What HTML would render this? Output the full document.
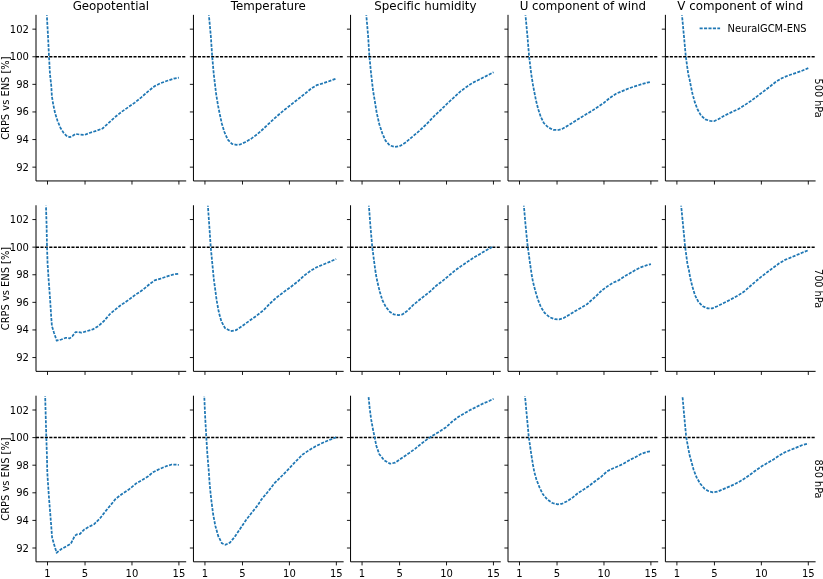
<!DOCTYPE html><html><head><meta charset="utf-8"><style>html,body{margin:0;padding:0;background:#fff;}svg{display:block;}text{font-family:"DejaVu Sans","Liberation Sans",sans-serif;fill:#000;font-variant-ligatures:none;font-kerning:normal;}</style></head><body>
<svg width="823" height="579" viewBox="0 0 823 579">
<rect width="823" height="579" fill="#fff"/>
<defs>
<clipPath id="c00"><rect x="36" y="15.35" width="149.7" height="165.6"/></clipPath>
<clipPath id="c01"><rect x="193.45" y="15.35" width="149.7" height="165.6"/></clipPath>
<clipPath id="c02"><rect x="350.55" y="15.35" width="149.7" height="165.6"/></clipPath>
<clipPath id="c03"><rect x="508" y="15.35" width="149.7" height="165.6"/></clipPath>
<clipPath id="c04"><rect x="665.4" y="15.35" width="149.7" height="165.6"/></clipPath>
<clipPath id="c10"><rect x="36" y="205.75" width="149.7" height="165.6"/></clipPath>
<clipPath id="c11"><rect x="193.45" y="205.75" width="149.7" height="165.6"/></clipPath>
<clipPath id="c12"><rect x="350.55" y="205.75" width="149.7" height="165.6"/></clipPath>
<clipPath id="c13"><rect x="508" y="205.75" width="149.7" height="165.6"/></clipPath>
<clipPath id="c14"><rect x="665.4" y="205.75" width="149.7" height="165.6"/></clipPath>
<clipPath id="c20"><rect x="36" y="396.2" width="149.7" height="165.6"/></clipPath>
<clipPath id="c21"><rect x="193.45" y="396.2" width="149.7" height="165.6"/></clipPath>
<clipPath id="c22"><rect x="350.55" y="396.2" width="149.7" height="165.6"/></clipPath>
<clipPath id="c23"><rect x="508" y="396.2" width="149.7" height="165.6"/></clipPath>
<clipPath id="c24"><rect x="665.4" y="396.2" width="149.7" height="165.6"/></clipPath>
</defs>
<line x1="36" y1="56.75" x2="185.7" y2="56.75" stroke="#000" stroke-width="1.5" stroke-dasharray="3.09 1.34"/>
<path d="M45.19 -13.6 L46.9 16.4 L48 35.7 L49 56.5 L50 74.5 L51.2 85 L51.9 96.4 L53.3 104.9 L55.2 113.5 L57.6 121.1 L60.4 127.7 L63.7 133 L67.1 136.3 L69.9 137.2 L72.8 135.8 L75.6 133.9 L79.9 134.6 L84.6 134.9 L89.4 133 L97 130.6 L102.5 128.5 L109 122.6 L115.4 116.8 L121.9 111.6 L128.4 107.1 L134.9 102.6 L141.3 97.4 L147.8 91.6 L154.3 86.4 L160.8 83.1 L167.2 80.8 L173.7 78.6 L178.85 77.6" fill="none" stroke="#1f77b4" stroke-width="1.75" stroke-dasharray="3.09 1.34" stroke-linejoin="round" clip-path="url(#c00)"/>
<path d="M36 15.35 V180.95 H185.7" fill="none" stroke="#000" stroke-width="1.0" stroke-linecap="square"/>
<line x1="32.4" y1="167.15" x2="36" y2="167.15" stroke="#000" stroke-width="0.9"/>
<text x="28.9" y="167.15" font-size="10.0" text-anchor="end" dominant-baseline="central">92</text>
<line x1="32.4" y1="139.55" x2="36" y2="139.55" stroke="#000" stroke-width="0.9"/>
<text x="28.9" y="139.55" font-size="10.0" text-anchor="end" dominant-baseline="central">94</text>
<line x1="32.4" y1="111.95" x2="36" y2="111.95" stroke="#000" stroke-width="0.9"/>
<text x="28.9" y="111.95" font-size="10.0" text-anchor="end" dominant-baseline="central">96</text>
<line x1="32.4" y1="84.35" x2="36" y2="84.35" stroke="#000" stroke-width="0.9"/>
<text x="28.9" y="84.35" font-size="10.0" text-anchor="end" dominant-baseline="central">98</text>
<line x1="32.4" y1="56.75" x2="36" y2="56.75" stroke="#000" stroke-width="0.9"/>
<text x="28.9" y="56.75" font-size="10.0" text-anchor="end" dominant-baseline="central">100</text>
<line x1="32.4" y1="29.15" x2="36" y2="29.15" stroke="#000" stroke-width="0.9"/>
<text x="28.9" y="29.15" font-size="10.0" text-anchor="end" dominant-baseline="central">102</text>
<line x1="47.5" y1="180.95" x2="47.5" y2="184.55" stroke="#000" stroke-width="0.9"/>
<line x1="85.04" y1="180.95" x2="85.04" y2="184.55" stroke="#000" stroke-width="0.9"/>
<line x1="131.97" y1="180.95" x2="131.97" y2="184.55" stroke="#000" stroke-width="0.9"/>
<line x1="178.9" y1="180.95" x2="178.9" y2="184.55" stroke="#000" stroke-width="0.9"/>
<text x="110.85" y="10" font-size="11.85" text-anchor="middle">Geopotential</text>
<text transform="translate(8.5 98.15) rotate(-90)" font-size="9.9" text-anchor="middle">CRPS vs ENS [%]</text>
<line x1="193.45" y1="56.75" x2="343.15" y2="56.75" stroke="#000" stroke-width="1.5" stroke-dasharray="3.09 1.34"/>
<path d="M206.2 -13.6 L209 16.4 L210.8 35.7 L212.2 56.5 L213.8 74.5 L216.2 94.5 L218.1 105.9 L220 115.2 L221.8 123.5 L224.4 132 L227.8 139.7 L232 143.9 L236.3 144.9 L240.5 144.3 L245.6 142 L251.6 138.4 L257.5 134.1 L262.6 129.5 L268.6 123.9 L276.2 116.8 L283.5 110.6 L290.7 104.9 L298 99.2 L305.2 93.5 L311.5 88.3 L316.6 85.2 L321.8 83.7 L328 81.6 L336.21 78.6" fill="none" stroke="#1f77b4" stroke-width="1.75" stroke-dasharray="3.09 1.34" stroke-linejoin="round" clip-path="url(#c01)"/>
<path d="M193.45 15.35 V180.95 H343.15" fill="none" stroke="#000" stroke-width="1.0" stroke-linecap="square"/>
<line x1="189.85" y1="167.15" x2="193.45" y2="167.15" stroke="#000" stroke-width="0.9"/>
<line x1="189.85" y1="139.55" x2="193.45" y2="139.55" stroke="#000" stroke-width="0.9"/>
<line x1="189.85" y1="111.95" x2="193.45" y2="111.95" stroke="#000" stroke-width="0.9"/>
<line x1="189.85" y1="84.35" x2="193.45" y2="84.35" stroke="#000" stroke-width="0.9"/>
<line x1="189.85" y1="56.75" x2="193.45" y2="56.75" stroke="#000" stroke-width="0.9"/>
<line x1="189.85" y1="29.15" x2="193.45" y2="29.15" stroke="#000" stroke-width="0.9"/>
<line x1="204.95" y1="180.95" x2="204.95" y2="184.55" stroke="#000" stroke-width="0.9"/>
<line x1="242.49" y1="180.95" x2="242.49" y2="184.55" stroke="#000" stroke-width="0.9"/>
<line x1="289.42" y1="180.95" x2="289.42" y2="184.55" stroke="#000" stroke-width="0.9"/>
<line x1="336.35" y1="180.95" x2="336.35" y2="184.55" stroke="#000" stroke-width="0.9"/>
<text x="268.3" y="10" font-size="11.85" text-anchor="middle">Temperature</text>
<line x1="350.55" y1="56.75" x2="500.25" y2="56.75" stroke="#000" stroke-width="1.5" stroke-dasharray="3.09 1.34"/>
<path d="M363.76 -13.6 L366.4 16.4 L368.1 35.7 L369.4 56.5 L371.2 74.5 L373.1 91 L374.7 100.4 L376.7 112.8 L379.3 124.2 L382.4 133.5 L385.5 140.7 L389.7 145.4 L394.8 146.9 L400 145.9 L405.2 142.8 L411.4 137.6 L418.7 131.4 L425.9 124.7 L435.4 114.9 L441.6 109.2 L447.8 103 L454 97.3 L460.2 91.6 L466.5 86.9 L472.7 82.8 L478.9 79.7 L486.1 76.1 L493.57 72.2" fill="none" stroke="#1f77b4" stroke-width="1.75" stroke-dasharray="3.09 1.34" stroke-linejoin="round" clip-path="url(#c02)"/>
<path d="M350.55 15.35 V180.95 H500.25" fill="none" stroke="#000" stroke-width="1.0" stroke-linecap="square"/>
<line x1="346.95" y1="167.15" x2="350.55" y2="167.15" stroke="#000" stroke-width="0.9"/>
<line x1="346.95" y1="139.55" x2="350.55" y2="139.55" stroke="#000" stroke-width="0.9"/>
<line x1="346.95" y1="111.95" x2="350.55" y2="111.95" stroke="#000" stroke-width="0.9"/>
<line x1="346.95" y1="84.35" x2="350.55" y2="84.35" stroke="#000" stroke-width="0.9"/>
<line x1="346.95" y1="56.75" x2="350.55" y2="56.75" stroke="#000" stroke-width="0.9"/>
<line x1="346.95" y1="29.15" x2="350.55" y2="29.15" stroke="#000" stroke-width="0.9"/>
<line x1="362.05" y1="180.95" x2="362.05" y2="184.55" stroke="#000" stroke-width="0.9"/>
<line x1="399.59" y1="180.95" x2="399.59" y2="184.55" stroke="#000" stroke-width="0.9"/>
<line x1="446.52" y1="180.95" x2="446.52" y2="184.55" stroke="#000" stroke-width="0.9"/>
<line x1="493.45" y1="180.95" x2="493.45" y2="184.55" stroke="#000" stroke-width="0.9"/>
<text x="425.4" y="10" font-size="11.85" text-anchor="middle">Specific humidity</text>
<line x1="508" y1="56.75" x2="657.7" y2="56.75" stroke="#000" stroke-width="1.5" stroke-dasharray="3.09 1.34"/>
<path d="M522.8 -13.6 L525.6 16.4 L527.4 35.7 L529.1 56.5 L531.3 74.5 L533 85 L534.3 91.9 L536 100.5 L538.2 109.2 L540.8 116.9 L543.8 123 L548.1 127.3 L553.3 129.9 L558.5 130 L562.8 128.6 L568 125.6 L574.9 121.2 L581.8 116.9 L585 114.9 L591.2 111.3 L597.4 107.2 L603.7 103 L609.9 97.8 L616.1 93.7 L622.3 91.1 L628.5 88.5 L634.7 86.4 L641 84.4 L647.2 82.6 L650.93 81.8" fill="none" stroke="#1f77b4" stroke-width="1.75" stroke-dasharray="3.09 1.34" stroke-linejoin="round" clip-path="url(#c03)"/>
<path d="M508 15.35 V180.95 H657.7" fill="none" stroke="#000" stroke-width="1.0" stroke-linecap="square"/>
<line x1="504.4" y1="167.15" x2="508" y2="167.15" stroke="#000" stroke-width="0.9"/>
<line x1="504.4" y1="139.55" x2="508" y2="139.55" stroke="#000" stroke-width="0.9"/>
<line x1="504.4" y1="111.95" x2="508" y2="111.95" stroke="#000" stroke-width="0.9"/>
<line x1="504.4" y1="84.35" x2="508" y2="84.35" stroke="#000" stroke-width="0.9"/>
<line x1="504.4" y1="56.75" x2="508" y2="56.75" stroke="#000" stroke-width="0.9"/>
<line x1="504.4" y1="29.15" x2="508" y2="29.15" stroke="#000" stroke-width="0.9"/>
<line x1="519.5" y1="180.95" x2="519.5" y2="184.55" stroke="#000" stroke-width="0.9"/>
<line x1="557.04" y1="180.95" x2="557.04" y2="184.55" stroke="#000" stroke-width="0.9"/>
<line x1="603.97" y1="180.95" x2="603.97" y2="184.55" stroke="#000" stroke-width="0.9"/>
<line x1="650.9" y1="180.95" x2="650.9" y2="184.55" stroke="#000" stroke-width="0.9"/>
<text x="582.85" y="10" font-size="11.85" text-anchor="middle">U component of wind</text>
<line x1="665.4" y1="56.75" x2="815.1" y2="56.75" stroke="#000" stroke-width="1.5" stroke-dasharray="3.09 1.34"/>
<path d="M679.3 -13.6 L682.1 16.4 L683.9 35.7 L685.8 56.5 L688.3 74.5 L689.7 80 L691 86.9 L692.7 94.7 L694.9 102.4 L697.5 109.3 L700.9 115.4 L705.3 119.3 L710.4 121 L713.9 121.2 L718.2 119.3 L724.2 115.8 L731.1 112.4 L738 109.3 L745 104.9 L751.2 100.7 L757.4 96.1 L763.6 91.4 L769.8 86.7 L776.1 81.6 L782.3 78 L788.5 75.4 L794.7 73.3 L800.9 71.2 L808.29 68.1" fill="none" stroke="#1f77b4" stroke-width="1.75" stroke-dasharray="3.09 1.34" stroke-linejoin="round" clip-path="url(#c04)"/>
<path d="M665.4 15.35 V180.95 H815.1" fill="none" stroke="#000" stroke-width="1.0" stroke-linecap="square"/>
<line x1="661.8" y1="167.15" x2="665.4" y2="167.15" stroke="#000" stroke-width="0.9"/>
<line x1="661.8" y1="139.55" x2="665.4" y2="139.55" stroke="#000" stroke-width="0.9"/>
<line x1="661.8" y1="111.95" x2="665.4" y2="111.95" stroke="#000" stroke-width="0.9"/>
<line x1="661.8" y1="84.35" x2="665.4" y2="84.35" stroke="#000" stroke-width="0.9"/>
<line x1="661.8" y1="56.75" x2="665.4" y2="56.75" stroke="#000" stroke-width="0.9"/>
<line x1="661.8" y1="29.15" x2="665.4" y2="29.15" stroke="#000" stroke-width="0.9"/>
<line x1="676.9" y1="180.95" x2="676.9" y2="184.55" stroke="#000" stroke-width="0.9"/>
<line x1="714.44" y1="180.95" x2="714.44" y2="184.55" stroke="#000" stroke-width="0.9"/>
<line x1="761.37" y1="180.95" x2="761.37" y2="184.55" stroke="#000" stroke-width="0.9"/>
<line x1="808.3" y1="180.95" x2="808.3" y2="184.55" stroke="#000" stroke-width="0.9"/>
<text x="740.25" y="10" font-size="11.85" text-anchor="middle">V component of wind</text>
<text transform="translate(814.7 98.15) rotate(90)" font-size="9.7" text-anchor="middle">500 hPa</text>
<line x1="36" y1="247.15" x2="185.7" y2="247.15" stroke="#000" stroke-width="1.5" stroke-dasharray="3.09 1.34"/>
<path d="M45.07 176.4 L46 206.4 L46.6 225.7 L47 246.5 L47.6 264 L48.8 282 L49.5 291.2 L50.3 302.4 L51 313.7 L51.9 326 L54 332.7 L56.7 340.6 L61.3 339.5 L65.8 337.8 L69.7 338.4 L72.5 336.1 L75.4 332.2 L78.7 332.2 L81.5 332.7 L87.1 331.1 L92.7 329.4 L98.4 326 L104 321 L109.8 314.2 L114.7 310 L120.7 305.2 L128 300.3 L135.2 294.9 L142.5 290.1 L149.7 284 L154.6 280.4 L160.6 278.6 L167.9 276.2 L173.9 274.3 L178.85 273.7" fill="none" stroke="#1f77b4" stroke-width="1.75" stroke-dasharray="3.09 1.34" stroke-linejoin="round" clip-path="url(#c10)"/>
<path d="M36 205.75 V371.35 H185.7" fill="none" stroke="#000" stroke-width="1.0" stroke-linecap="square"/>
<line x1="32.4" y1="357.55" x2="36" y2="357.55" stroke="#000" stroke-width="0.9"/>
<text x="28.9" y="357.55" font-size="10.0" text-anchor="end" dominant-baseline="central">92</text>
<line x1="32.4" y1="329.95" x2="36" y2="329.95" stroke="#000" stroke-width="0.9"/>
<text x="28.9" y="329.95" font-size="10.0" text-anchor="end" dominant-baseline="central">94</text>
<line x1="32.4" y1="302.35" x2="36" y2="302.35" stroke="#000" stroke-width="0.9"/>
<text x="28.9" y="302.35" font-size="10.0" text-anchor="end" dominant-baseline="central">96</text>
<line x1="32.4" y1="274.75" x2="36" y2="274.75" stroke="#000" stroke-width="0.9"/>
<text x="28.9" y="274.75" font-size="10.0" text-anchor="end" dominant-baseline="central">98</text>
<line x1="32.4" y1="247.15" x2="36" y2="247.15" stroke="#000" stroke-width="0.9"/>
<text x="28.9" y="247.15" font-size="10.0" text-anchor="end" dominant-baseline="central">100</text>
<line x1="32.4" y1="219.55" x2="36" y2="219.55" stroke="#000" stroke-width="0.9"/>
<text x="28.9" y="219.55" font-size="10.0" text-anchor="end" dominant-baseline="central">102</text>
<line x1="47.5" y1="371.35" x2="47.5" y2="374.95" stroke="#000" stroke-width="0.9"/>
<line x1="85.04" y1="371.35" x2="85.04" y2="374.95" stroke="#000" stroke-width="0.9"/>
<line x1="131.97" y1="371.35" x2="131.97" y2="374.95" stroke="#000" stroke-width="0.9"/>
<line x1="178.9" y1="371.35" x2="178.9" y2="374.95" stroke="#000" stroke-width="0.9"/>
<text transform="translate(8.5 288.55) rotate(-90)" font-size="9.9" text-anchor="middle">CRPS vs ENS [%]</text>
<line x1="193.45" y1="247.15" x2="343.15" y2="247.15" stroke="#000" stroke-width="1.5" stroke-dasharray="3.09 1.34"/>
<path d="M205.9 177.1 L208 207.1 L209.3 225.7 L210.7 246.5 L212.4 264.5 L213.9 280 L215.2 289.3 L216.7 300.7 L218.8 312.1 L221.4 321.4 L225 328.1 L230.7 331.2 L235.9 330.2 L242.1 326.1 L249.3 320.9 L256.6 315.7 L263.8 310 L270 303.5 L276.2 297.8 L283.5 292.2 L290.7 287 L298 281.3 L304.2 275.6 L310.4 270.9 L316.6 267.3 L322.8 264.7 L329.1 262.1 L336.21 259" fill="none" stroke="#1f77b4" stroke-width="1.75" stroke-dasharray="3.09 1.34" stroke-linejoin="round" clip-path="url(#c11)"/>
<path d="M193.45 205.75 V371.35 H343.15" fill="none" stroke="#000" stroke-width="1.0" stroke-linecap="square"/>
<line x1="189.85" y1="357.55" x2="193.45" y2="357.55" stroke="#000" stroke-width="0.9"/>
<line x1="189.85" y1="329.95" x2="193.45" y2="329.95" stroke="#000" stroke-width="0.9"/>
<line x1="189.85" y1="302.35" x2="193.45" y2="302.35" stroke="#000" stroke-width="0.9"/>
<line x1="189.85" y1="274.75" x2="193.45" y2="274.75" stroke="#000" stroke-width="0.9"/>
<line x1="189.85" y1="247.15" x2="193.45" y2="247.15" stroke="#000" stroke-width="0.9"/>
<line x1="189.85" y1="219.55" x2="193.45" y2="219.55" stroke="#000" stroke-width="0.9"/>
<line x1="204.95" y1="371.35" x2="204.95" y2="374.95" stroke="#000" stroke-width="0.9"/>
<line x1="242.49" y1="371.35" x2="242.49" y2="374.95" stroke="#000" stroke-width="0.9"/>
<line x1="289.42" y1="371.35" x2="289.42" y2="374.95" stroke="#000" stroke-width="0.9"/>
<line x1="336.35" y1="371.35" x2="336.35" y2="374.95" stroke="#000" stroke-width="0.9"/>
<line x1="350.55" y1="247.15" x2="500.25" y2="247.15" stroke="#000" stroke-width="1.5" stroke-dasharray="3.09 1.34"/>
<path d="M366.74 177.1 L369 207.1 L370.4 225.7 L372.2 246.5 L374.5 264.5 L376 275 L377.6 282.8 L379.7 291.4 L382.3 300 L385.8 306.9 L389.7 311.7 L394 314.5 L398.3 315.1 L402.6 314.3 L407.8 310.4 L413 305.2 L418.1 300.9 L424.2 296.1 L430.2 291.4 L436.2 285.7 L442.4 281.1 L448.6 275.9 L454.8 270.7 L461.1 266.1 L467.3 261.9 L473.5 257.8 L479.7 254.2 L485.9 250.5 L493.57 246.2" fill="none" stroke="#1f77b4" stroke-width="1.75" stroke-dasharray="3.09 1.34" stroke-linejoin="round" clip-path="url(#c12)"/>
<path d="M350.55 205.75 V371.35 H500.25" fill="none" stroke="#000" stroke-width="1.0" stroke-linecap="square"/>
<line x1="346.95" y1="357.55" x2="350.55" y2="357.55" stroke="#000" stroke-width="0.9"/>
<line x1="346.95" y1="329.95" x2="350.55" y2="329.95" stroke="#000" stroke-width="0.9"/>
<line x1="346.95" y1="302.35" x2="350.55" y2="302.35" stroke="#000" stroke-width="0.9"/>
<line x1="346.95" y1="274.75" x2="350.55" y2="274.75" stroke="#000" stroke-width="0.9"/>
<line x1="346.95" y1="247.15" x2="350.55" y2="247.15" stroke="#000" stroke-width="0.9"/>
<line x1="346.95" y1="219.55" x2="350.55" y2="219.55" stroke="#000" stroke-width="0.9"/>
<line x1="362.05" y1="371.35" x2="362.05" y2="374.95" stroke="#000" stroke-width="0.9"/>
<line x1="399.59" y1="371.35" x2="399.59" y2="374.95" stroke="#000" stroke-width="0.9"/>
<line x1="446.52" y1="371.35" x2="446.52" y2="374.95" stroke="#000" stroke-width="0.9"/>
<line x1="493.45" y1="371.35" x2="493.45" y2="374.95" stroke="#000" stroke-width="0.9"/>
<line x1="508" y1="247.15" x2="657.7" y2="247.15" stroke="#000" stroke-width="1.5" stroke-dasharray="3.09 1.34"/>
<path d="M521.42 177.1 L524 207.1 L525.6 225.7 L527.7 246.5 L530.2 264.5 L531.7 275 L533 281.9 L535.2 290.5 L537.8 299.2 L540.8 306.9 L544.7 313 L549.8 317.3 L555 319.2 L559.3 319.4 L563.6 318.1 L568.8 315.1 L574.9 311.2 L581.8 307.4 L586.9 304.3 L592.1 299.6 L595.7 296.5 L601.4 290.8 L607.1 286.6 L612.8 282.8 L618.5 280.4 L624.2 276.6 L629.9 273.3 L635.6 269.9 L641.3 267.1 L647 265.2 L650.93 264.2" fill="none" stroke="#1f77b4" stroke-width="1.75" stroke-dasharray="3.09 1.34" stroke-linejoin="round" clip-path="url(#c13)"/>
<path d="M508 205.75 V371.35 H657.7" fill="none" stroke="#000" stroke-width="1.0" stroke-linecap="square"/>
<line x1="504.4" y1="357.55" x2="508" y2="357.55" stroke="#000" stroke-width="0.9"/>
<line x1="504.4" y1="329.95" x2="508" y2="329.95" stroke="#000" stroke-width="0.9"/>
<line x1="504.4" y1="302.35" x2="508" y2="302.35" stroke="#000" stroke-width="0.9"/>
<line x1="504.4" y1="274.75" x2="508" y2="274.75" stroke="#000" stroke-width="0.9"/>
<line x1="504.4" y1="247.15" x2="508" y2="247.15" stroke="#000" stroke-width="0.9"/>
<line x1="504.4" y1="219.55" x2="508" y2="219.55" stroke="#000" stroke-width="0.9"/>
<line x1="519.5" y1="371.35" x2="519.5" y2="374.95" stroke="#000" stroke-width="0.9"/>
<line x1="557.04" y1="371.35" x2="557.04" y2="374.95" stroke="#000" stroke-width="0.9"/>
<line x1="603.97" y1="371.35" x2="603.97" y2="374.95" stroke="#000" stroke-width="0.9"/>
<line x1="650.9" y1="371.35" x2="650.9" y2="374.95" stroke="#000" stroke-width="0.9"/>
<line x1="665.4" y1="247.15" x2="815.1" y2="247.15" stroke="#000" stroke-width="1.5" stroke-dasharray="3.09 1.34"/>
<path d="M678.4 177.1 L681.3 207.1 L683.1 225.7 L685.1 246.5 L687.5 264.5 L688.9 270 L690.2 277.8 L692.3 286.4 L694.9 295 L698.4 301.9 L702.7 306.2 L707.8 308.4 L712.2 308.4 L717.3 306.2 L724.2 302.8 L731.1 299.3 L738 295.5 L744.1 291.6 L750.4 286 L756.4 280.8 L762.1 276.1 L767.8 271.8 L773.5 267.5 L779.2 263.3 L784.9 259.9 L790.6 257.6 L796.3 255.2 L802 252.8 L808.29 250.2" fill="none" stroke="#1f77b4" stroke-width="1.75" stroke-dasharray="3.09 1.34" stroke-linejoin="round" clip-path="url(#c14)"/>
<path d="M665.4 205.75 V371.35 H815.1" fill="none" stroke="#000" stroke-width="1.0" stroke-linecap="square"/>
<line x1="661.8" y1="357.55" x2="665.4" y2="357.55" stroke="#000" stroke-width="0.9"/>
<line x1="661.8" y1="329.95" x2="665.4" y2="329.95" stroke="#000" stroke-width="0.9"/>
<line x1="661.8" y1="302.35" x2="665.4" y2="302.35" stroke="#000" stroke-width="0.9"/>
<line x1="661.8" y1="274.75" x2="665.4" y2="274.75" stroke="#000" stroke-width="0.9"/>
<line x1="661.8" y1="247.15" x2="665.4" y2="247.15" stroke="#000" stroke-width="0.9"/>
<line x1="661.8" y1="219.55" x2="665.4" y2="219.55" stroke="#000" stroke-width="0.9"/>
<line x1="676.9" y1="371.35" x2="676.9" y2="374.95" stroke="#000" stroke-width="0.9"/>
<line x1="714.44" y1="371.35" x2="714.44" y2="374.95" stroke="#000" stroke-width="0.9"/>
<line x1="761.37" y1="371.35" x2="761.37" y2="374.95" stroke="#000" stroke-width="0.9"/>
<line x1="808.3" y1="371.35" x2="808.3" y2="374.95" stroke="#000" stroke-width="0.9"/>
<text transform="translate(814.7 288.55) rotate(90)" font-size="9.7" text-anchor="middle">700 hPa</text>
<line x1="36" y1="437.6" x2="185.7" y2="437.6" stroke="#000" stroke-width="1.5" stroke-dasharray="3.09 1.34"/>
<path d="M44.39 367.1 L45.2 397.1 L45.7 415.7 L46.3 437.2 L46.9 454.5 L47.3 472.5 L48.1 484.7 L49.1 499.4 L50.3 514.1 L51.3 527 L52.1 537.5 L54.1 544.5 L56.6 552.8 L61.1 549.2 L66.6 546.1 L70.8 543.8 L74.7 536 L76.7 534.4 L79.8 534.1 L84.4 529.4 L89.1 526.7 L94 524.3 L100.1 518.2 L105.6 511.1 L111.2 504.4 L115.7 498.8 L122.4 493.7 L129.2 489.2 L135.9 483.6 L142.6 479.7 L148.3 476.3 L152.7 472.4 L159.5 469 L166.2 466.2 L171.8 464.5 L178.85 464.8" fill="none" stroke="#1f77b4" stroke-width="1.75" stroke-dasharray="3.09 1.34" stroke-linejoin="round" clip-path="url(#c20)"/>
<path d="M36 396.2 V561.8 H185.7" fill="none" stroke="#000" stroke-width="1.0" stroke-linecap="square"/>
<line x1="32.4" y1="548" x2="36" y2="548" stroke="#000" stroke-width="0.9"/>
<text x="28.9" y="548" font-size="10.0" text-anchor="end" dominant-baseline="central">92</text>
<line x1="32.4" y1="520.4" x2="36" y2="520.4" stroke="#000" stroke-width="0.9"/>
<text x="28.9" y="520.4" font-size="10.0" text-anchor="end" dominant-baseline="central">94</text>
<line x1="32.4" y1="492.8" x2="36" y2="492.8" stroke="#000" stroke-width="0.9"/>
<text x="28.9" y="492.8" font-size="10.0" text-anchor="end" dominant-baseline="central">96</text>
<line x1="32.4" y1="465.2" x2="36" y2="465.2" stroke="#000" stroke-width="0.9"/>
<text x="28.9" y="465.2" font-size="10.0" text-anchor="end" dominant-baseline="central">98</text>
<line x1="32.4" y1="437.6" x2="36" y2="437.6" stroke="#000" stroke-width="0.9"/>
<text x="28.9" y="437.6" font-size="10.0" text-anchor="end" dominant-baseline="central">100</text>
<line x1="32.4" y1="410" x2="36" y2="410" stroke="#000" stroke-width="0.9"/>
<text x="28.9" y="410" font-size="10.0" text-anchor="end" dominant-baseline="central">102</text>
<line x1="47.5" y1="561.8" x2="47.5" y2="565.4" stroke="#000" stroke-width="0.9"/>
<text x="47.5" y="576.5" font-size="10.0" text-anchor="middle">1</text>
<line x1="85.04" y1="561.8" x2="85.04" y2="565.4" stroke="#000" stroke-width="0.9"/>
<text x="85.04" y="576.5" font-size="10.0" text-anchor="middle">5</text>
<line x1="131.97" y1="561.8" x2="131.97" y2="565.4" stroke="#000" stroke-width="0.9"/>
<text x="131.97" y="576.5" font-size="10.0" text-anchor="middle">10</text>
<line x1="178.9" y1="561.8" x2="178.9" y2="565.4" stroke="#000" stroke-width="0.9"/>
<text x="178.9" y="576.5" font-size="10.0" text-anchor="middle">15</text>
<text transform="translate(8.5 479) rotate(-90)" font-size="9.9" text-anchor="middle">CRPS vs ENS [%]</text>
<line x1="193.45" y1="437.6" x2="343.15" y2="437.6" stroke="#000" stroke-width="1.5" stroke-dasharray="3.09 1.34"/>
<path d="M203.04 366.7 L204.3 396.7 L205.1 415.7 L206.3 437.2 L207.4 454.5 L208.7 470 L209.7 484.7 L211.2 499.3 L213.1 514 L215.3 525.7 L218.2 536 L221.9 543.3 L225.5 544.8 L229.9 542.6 L234.3 537.4 L240.2 528.7 L246.1 519.9 L251.9 512.5 L257.8 505.2 L261.2 499.8 L267.3 492.5 L274.5 483.2 L281.8 476 L289 468.7 L296.3 460.8 L302.3 454.8 L308.4 450.6 L315.6 446.3 L322.9 442.7 L330.1 439.7 L336.21 437.2" fill="none" stroke="#1f77b4" stroke-width="1.75" stroke-dasharray="3.09 1.34" stroke-linejoin="round" clip-path="url(#c21)"/>
<path d="M193.45 396.2 V561.8 H343.15" fill="none" stroke="#000" stroke-width="1.0" stroke-linecap="square"/>
<line x1="189.85" y1="548" x2="193.45" y2="548" stroke="#000" stroke-width="0.9"/>
<line x1="189.85" y1="520.4" x2="193.45" y2="520.4" stroke="#000" stroke-width="0.9"/>
<line x1="189.85" y1="492.8" x2="193.45" y2="492.8" stroke="#000" stroke-width="0.9"/>
<line x1="189.85" y1="465.2" x2="193.45" y2="465.2" stroke="#000" stroke-width="0.9"/>
<line x1="189.85" y1="437.6" x2="193.45" y2="437.6" stroke="#000" stroke-width="0.9"/>
<line x1="189.85" y1="410" x2="193.45" y2="410" stroke="#000" stroke-width="0.9"/>
<line x1="204.95" y1="561.8" x2="204.95" y2="565.4" stroke="#000" stroke-width="0.9"/>
<text x="204.95" y="576.5" font-size="10.0" text-anchor="middle">1</text>
<line x1="242.49" y1="561.8" x2="242.49" y2="565.4" stroke="#000" stroke-width="0.9"/>
<text x="242.49" y="576.5" font-size="10.0" text-anchor="middle">5</text>
<line x1="289.42" y1="561.8" x2="289.42" y2="565.4" stroke="#000" stroke-width="0.9"/>
<text x="289.42" y="576.5" font-size="10.0" text-anchor="middle">10</text>
<line x1="336.35" y1="561.8" x2="336.35" y2="565.4" stroke="#000" stroke-width="0.9"/>
<text x="336.35" y="576.5" font-size="10.0" text-anchor="middle">15</text>
<line x1="350.55" y1="437.6" x2="500.25" y2="437.6" stroke="#000" stroke-width="1.5" stroke-dasharray="3.09 1.34"/>
<path d="M365.52 366.2 L368.5 396.2 L369.7 408.3 L371.1 419.2 L373.1 430.1 L374.8 437.9 L376.3 445.8 L379.3 454.2 L384.2 460.3 L390.2 463.7 L395.1 462.7 L401.1 458.5 L408.4 453.6 L415.3 448.6 L421.2 443.8 L427.4 439.1 L433.7 435 L439.9 431.3 L446.1 427.2 L452.3 421.5 L458.5 416.8 L464.7 413.2 L471 409.6 L477.2 406.5 L483.4 403.4 L489.6 400.8 L493.57 398.8" fill="none" stroke="#1f77b4" stroke-width="1.75" stroke-dasharray="3.09 1.34" stroke-linejoin="round" clip-path="url(#c22)"/>
<path d="M350.55 396.2 V561.8 H500.25" fill="none" stroke="#000" stroke-width="1.0" stroke-linecap="square"/>
<line x1="346.95" y1="548" x2="350.55" y2="548" stroke="#000" stroke-width="0.9"/>
<line x1="346.95" y1="520.4" x2="350.55" y2="520.4" stroke="#000" stroke-width="0.9"/>
<line x1="346.95" y1="492.8" x2="350.55" y2="492.8" stroke="#000" stroke-width="0.9"/>
<line x1="346.95" y1="465.2" x2="350.55" y2="465.2" stroke="#000" stroke-width="0.9"/>
<line x1="346.95" y1="437.6" x2="350.55" y2="437.6" stroke="#000" stroke-width="0.9"/>
<line x1="346.95" y1="410" x2="350.55" y2="410" stroke="#000" stroke-width="0.9"/>
<line x1="362.05" y1="561.8" x2="362.05" y2="565.4" stroke="#000" stroke-width="0.9"/>
<text x="362.05" y="576.5" font-size="10.0" text-anchor="middle">1</text>
<line x1="399.59" y1="561.8" x2="399.59" y2="565.4" stroke="#000" stroke-width="0.9"/>
<text x="399.59" y="576.5" font-size="10.0" text-anchor="middle">5</text>
<line x1="446.52" y1="561.8" x2="446.52" y2="565.4" stroke="#000" stroke-width="0.9"/>
<text x="446.52" y="576.5" font-size="10.0" text-anchor="middle">10</text>
<line x1="493.45" y1="561.8" x2="493.45" y2="565.4" stroke="#000" stroke-width="0.9"/>
<text x="493.45" y="576.5" font-size="10.0" text-anchor="middle">15</text>
<line x1="508" y1="437.6" x2="657.7" y2="437.6" stroke="#000" stroke-width="1.5" stroke-dasharray="3.09 1.34"/>
<path d="M522.36 367.1 L525.1 397.1 L526.8 415.7 L528.8 437.2 L531.3 454.5 L533 465 L534.3 471.9 L536.5 479.7 L539.5 487.4 L542.9 494.3 L547.3 499.5 L552.4 503 L557.6 504.3 L561.9 503.8 L567.1 501.2 L572.3 497.8 L577.5 493.5 L583.5 489.6 L590.2 485 L595.7 480.8 L601.4 476.6 L607.1 471.3 L612.8 468.5 L618.5 466.1 L624.2 463.3 L629.9 459.9 L635.6 457.1 L641.3 453.8 L647 451.9 L650.93 451.3" fill="none" stroke="#1f77b4" stroke-width="1.75" stroke-dasharray="3.09 1.34" stroke-linejoin="round" clip-path="url(#c23)"/>
<path d="M508 396.2 V561.8 H657.7" fill="none" stroke="#000" stroke-width="1.0" stroke-linecap="square"/>
<line x1="504.4" y1="548" x2="508" y2="548" stroke="#000" stroke-width="0.9"/>
<line x1="504.4" y1="520.4" x2="508" y2="520.4" stroke="#000" stroke-width="0.9"/>
<line x1="504.4" y1="492.8" x2="508" y2="492.8" stroke="#000" stroke-width="0.9"/>
<line x1="504.4" y1="465.2" x2="508" y2="465.2" stroke="#000" stroke-width="0.9"/>
<line x1="504.4" y1="437.6" x2="508" y2="437.6" stroke="#000" stroke-width="0.9"/>
<line x1="504.4" y1="410" x2="508" y2="410" stroke="#000" stroke-width="0.9"/>
<line x1="519.5" y1="561.8" x2="519.5" y2="565.4" stroke="#000" stroke-width="0.9"/>
<text x="519.5" y="576.5" font-size="10.0" text-anchor="middle">1</text>
<line x1="557.04" y1="561.8" x2="557.04" y2="565.4" stroke="#000" stroke-width="0.9"/>
<text x="557.04" y="576.5" font-size="10.0" text-anchor="middle">5</text>
<line x1="603.97" y1="561.8" x2="603.97" y2="565.4" stroke="#000" stroke-width="0.9"/>
<text x="603.97" y="576.5" font-size="10.0" text-anchor="middle">10</text>
<line x1="650.9" y1="561.8" x2="650.9" y2="565.4" stroke="#000" stroke-width="0.9"/>
<text x="650.9" y="576.5" font-size="10.0" text-anchor="middle">15</text>
<line x1="665.4" y1="437.6" x2="815.1" y2="437.6" stroke="#000" stroke-width="1.5" stroke-dasharray="3.09 1.34"/>
<path d="M679.86 366.4 L682.5 396.4 L684.2 415.7 L686.2 437.2 L689.5 454.8 L691.5 461.9 L693.6 469.7 L696.6 477.4 L700.1 483.5 L704.4 488.6 L708.7 491.2 L713 492.3 L717.3 491.7 L722.5 489.5 L728.6 486.9 L734.6 484.3 L740.6 480.9 L745.5 478 L750.7 474.2 L756.4 469.9 L762.1 466.1 L767.8 462.8 L773.5 459.4 L779.2 455.6 L784.9 452.3 L790.6 449.9 L796.3 447.6 L802 445.2 L808.29 443.6" fill="none" stroke="#1f77b4" stroke-width="1.75" stroke-dasharray="3.09 1.34" stroke-linejoin="round" clip-path="url(#c24)"/>
<path d="M665.4 396.2 V561.8 H815.1" fill="none" stroke="#000" stroke-width="1.0" stroke-linecap="square"/>
<line x1="661.8" y1="548" x2="665.4" y2="548" stroke="#000" stroke-width="0.9"/>
<line x1="661.8" y1="520.4" x2="665.4" y2="520.4" stroke="#000" stroke-width="0.9"/>
<line x1="661.8" y1="492.8" x2="665.4" y2="492.8" stroke="#000" stroke-width="0.9"/>
<line x1="661.8" y1="465.2" x2="665.4" y2="465.2" stroke="#000" stroke-width="0.9"/>
<line x1="661.8" y1="437.6" x2="665.4" y2="437.6" stroke="#000" stroke-width="0.9"/>
<line x1="661.8" y1="410" x2="665.4" y2="410" stroke="#000" stroke-width="0.9"/>
<line x1="676.9" y1="561.8" x2="676.9" y2="565.4" stroke="#000" stroke-width="0.9"/>
<text x="676.9" y="576.5" font-size="10.0" text-anchor="middle">1</text>
<line x1="714.44" y1="561.8" x2="714.44" y2="565.4" stroke="#000" stroke-width="0.9"/>
<text x="714.44" y="576.5" font-size="10.0" text-anchor="middle">5</text>
<line x1="761.37" y1="561.8" x2="761.37" y2="565.4" stroke="#000" stroke-width="0.9"/>
<text x="761.37" y="576.5" font-size="10.0" text-anchor="middle">10</text>
<line x1="808.3" y1="561.8" x2="808.3" y2="565.4" stroke="#000" stroke-width="0.9"/>
<text x="808.3" y="576.5" font-size="10.0" text-anchor="middle">15</text>
<text transform="translate(814.7 479) rotate(90)" font-size="9.7" text-anchor="middle">850 hPa</text>
<line x1="699.6" y1="28.3" x2="720.1" y2="28.3" stroke="#1f77b4" stroke-width="1.75" stroke-dasharray="3.09 1.34"/>
<text x="727.5" y="31.8" font-size="9.9">NeuralGCM-ENS</text>
</svg></body></html>
